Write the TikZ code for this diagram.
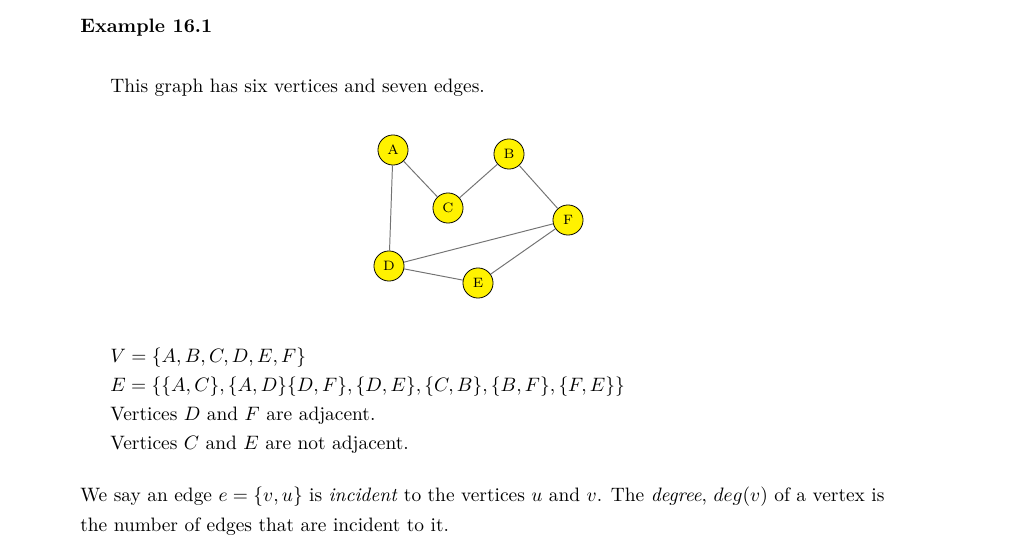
\documentclass[tikz,border=0pt]{standalone}
\begin{document}
\begin{tikzpicture}[x=0.515pt,y=-0.515pt,
  vert/.style={circle,draw=black,fill=yellow,minimum size=15.5pt,inner sep=0pt,font=\fontsize{7}{8}\selectfont},
  edge/.style={draw=gray!90!black,line width=0.5pt},
  txt/.style={anchor=base west,inner sep=0pt}]
\useasboundingbox (0,0) rectangle (1019,556);
\node[txt] (t0) at (80,32) {\textbf{Example 16.1}};
\node[txt] (t1) at (110,92) {This graph has six vertices and seven edges.};
\node[vert] (A) at (393,150) {A};
\node[vert] (B) at (509,154) {B};
\node[vert] (C) at (448,208) {C};
\node[vert] (D) at (389,266) {D};
\node[vert] (E) at (478,283) {E};
\node[vert] (F) at (568,220) {F};
\draw[edge] (A)--(C) (A)--(D) (D)--(F) (D)--(E) (C)--(B) (B)--(F) (F)--(E);
\node[txt] (m1) at (110,362) {$V=\{A,B,C,D,E,F\}$};
\node[txt] (m2) at (110,391) {$E=\{\{A,C\},\{A,D\}\{D,F\},\{D,E\},\{C,B\},\{B,F\},\{F,E\}\}$};
\node[txt] (m3) at (110,420) {Vertices $D$ and $F$ are adjacent.};
\node[txt] (m4) at (110,449) {Vertices $C$ and $E$ are not adjacent.};
\node[txt] (p1) at (80,501) {We say an edge $e=\{v,u\}$ is \emph{incident} to the vertices $u$ and $v$. The \emph{degree}, $deg(v)$ of a vertex is};
\node[txt] (p2) at (80,531) {the number of edges that are incident to it.};
\end{tikzpicture}
\end{document}
